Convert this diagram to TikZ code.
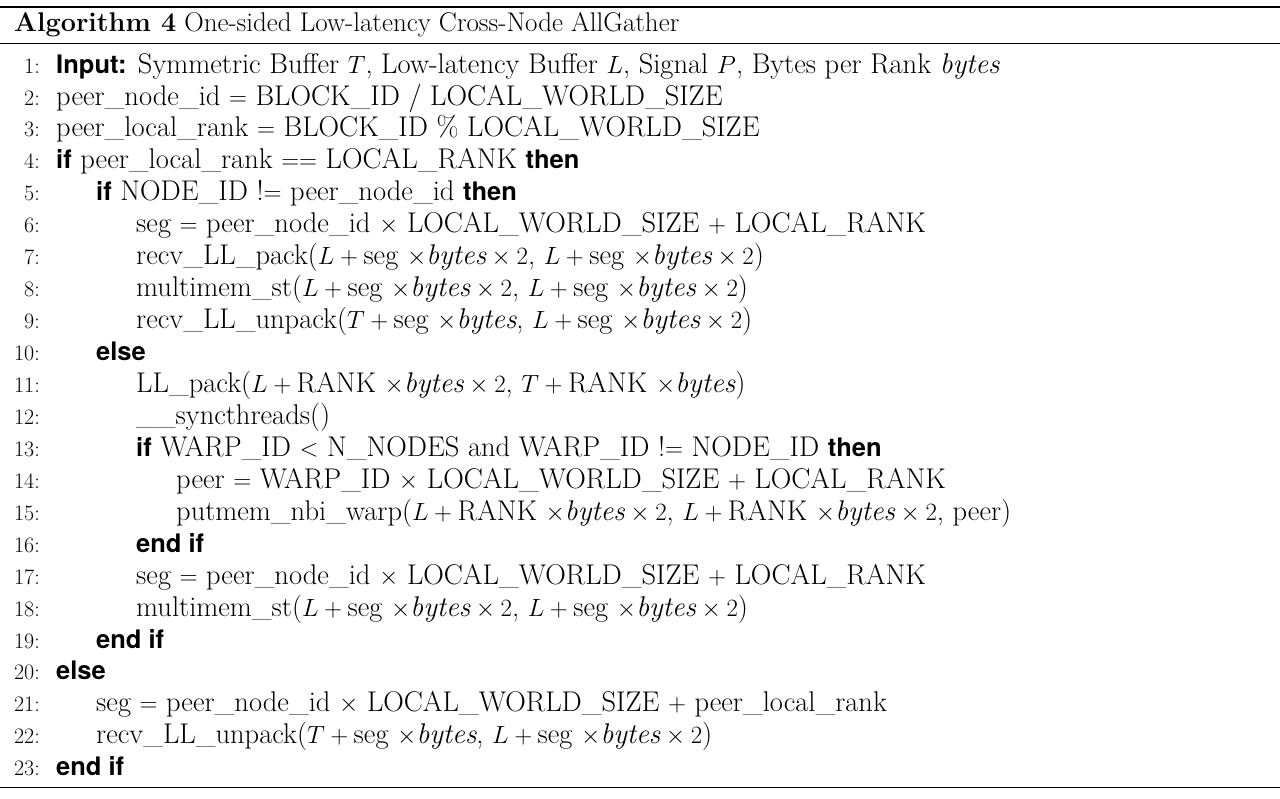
\documentclass[tikz,border=0pt]{standalone}
\usepackage{fontspec}
\newfontfamily\kwf{TeX Gyre Heros}
\begin{document}
\begin{tikzpicture}[x=1pt,y=-1pt,
  ln/.style={anchor=base east,inner sep=0pt,font=\fontsize{22}{26}\selectfont},
  tx/.style={anchor=base west,inner sep=0pt,font=\fontsize{28.5}{32}\selectfont}]
\newcommand\kw[1]{{\kwf\bfseries\fontsize{25.5}{30}\selectfont #1}}
\newcommand\by{\mathit{bytes}}
\useasboundingbox (0,0) rectangle (1280,798);
\draw[line width=1.6pt] (0,7) -- (1280,7);
\draw[line width=0.9pt] (0,43) -- (1280,43);
\draw[line width=0.9pt] (0,787) -- (1280,787);
\node[tx,font=\fontsize{27}{30}\selectfont] (head) at (14,31) {\textbf{Algorithm 4} One-sided Low-latency Cross-Node AllGather};
\def\L#1#2#3#4{\node[ln] (n#1) at (40,#2) {#1:};\node[tx] (t#1) at (#3,#2) {#4};}
\L{1}{73}{56}{\kw{Input:} Symmetric Buffer $T$, Low-latency Buffer $L$, Signal $P$, Bytes per Rank $\by$}
\L{2}{105}{56}{peer\_node\_id $=$ BLOCK\_ID / LOCAL\_WORLD\_SIZE}
\L{3}{136}{56}{peer\_local\_rank $=$ BLOCK\_ID \% LOCAL\_WORLD\_SIZE}
\L{4}{168}{56}{\kw{if} peer\_local\_rank $==$ LOCAL\_RANK \kw{then}}
\L{5}{200}{96}{\kw{if} NODE\_ID !$=$ peer\_node\_id \kw{then}}
\L{6}{232}{136}{seg $=$ peer\_node\_id $\times$ LOCAL\_WORLD\_SIZE $+$ LOCAL\_RANK}
\L{7}{264}{136}{recv\_LL\_pack($L+{}$seg $\times\by\times2$, $L+{}$seg $\times\by\times2$)}
\L{8}{296}{136}{multimem\_st($L+{}$seg $\times\by\times2$, $L+{}$seg $\times\by\times2$)}
\L{9}{328}{136}{recv\_LL\_unpack($T+{}$seg $\times\by$, $L+{}$seg $\times\by\times2$)}
\L{10}{360}{96}{\kw{else}}
\L{11}{392}{136}{LL\_pack($L+{}$RANK $\times\by\times2$, $T+{}$RANK $\times\by$)}
\L{12}{424}{136}{\_\_syncthreads()}
\L{13}{456}{136}{\kw{if} WARP\_ID $<$ N\_NODES and WARP\_ID !$=$ NODE\_ID \kw{then}}
\L{14}{488}{176}{peer $=$ WARP\_ID $\times$ LOCAL\_WORLD\_SIZE $+$ LOCAL\_RANK}
\L{15}{520}{176}{putmem\_nbi\_warp($L+{}$RANK $\times\by\times2$, $L+{}$RANK $\times\by\times2$, peer)}
\L{16}{552}{136}{\kw{end if}}
\L{17}{584}{136}{seg $=$ peer\_node\_id $\times$ LOCAL\_WORLD\_SIZE $+$ LOCAL\_RANK}
\L{18}{616}{136}{multimem\_st($L+{}$seg $\times\by\times2$, $L+{}$seg $\times\by\times2$)}
\L{19}{648}{96}{\kw{end if}}
\L{20}{679}{56}{\kw{else}}
\L{21}{711}{96}{seg $=$ peer\_node\_id $\times$ LOCAL\_WORLD\_SIZE $+$ peer\_local\_rank}
\L{22}{743}{96}{recv\_LL\_unpack($T+{}$seg $\times\by$, $L+{}$seg $\times\by\times2$)}
\L{23}{775}{56}{\kw{end if}}
\end{tikzpicture}
\end{document}
